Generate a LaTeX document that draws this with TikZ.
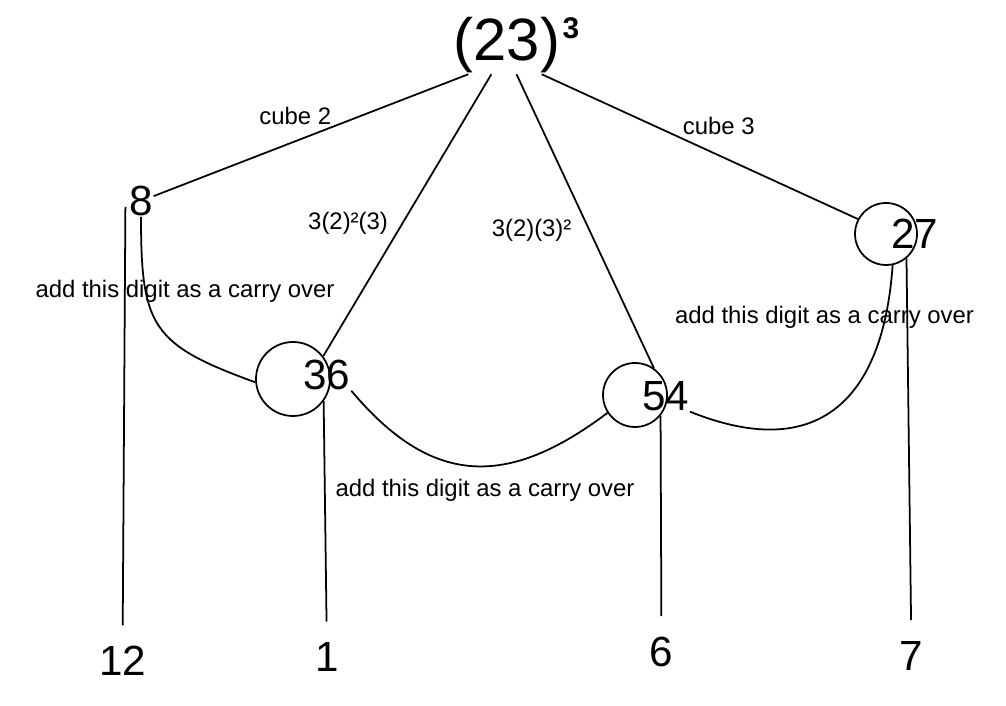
\documentclass[tikz,border=0pt]{standalone}
\usepackage{fontspec}
\setmainfont{Liberation Sans}
\usepackage{tikz}

\begin{document}
\begin{tikzpicture}[line width=1pt,
    num/.style={inner sep=0pt, font=\fontsize{24}{28}\selectfont},
    endnum/.style={num, inner ysep=0.4cm},
    ring/.style={circle, draw, inner sep=0pt, minimum size=#1},
    note/.style={inner sep=0pt, font=\fontsize{13.6}{16}\selectfont}]
    \useasboundingbox (0,0) rectangle (20.12,14.12);
    \node[inner sep=0pt, anchor=base, font=\fontsize{34}{40}\selectfont] (top) at (10.33,12.90) {(23)\hspace{1.5pt}\raisebox{13pt}{\fontsize{17}{17}\selectfont\bfseries 3}};
    \node[num] (n8) at (2.82,10.10) {8};
    \node[num] (n36) at (6.54,6.62) {36};
    \node[num] (n54) at (13.31,6.20) {54};
    \node[num] (n27) at (18.29,9.45) {27};
    \node[ring=1.48cm] (c36) at (5.86,6.54) {};
    \node[ring=1.28cm] (c54) at (12.70,6.22) {};
    \node[ring=1.24cm] (c27) at (17.72,9.44) {};
    \node[endnum] (d12) at (2.45,0.90) {12};
    \node[endnum] (d1) at (6.54,0.98) {1};
    \node[endnum] (d6) at (13.23,1.08) {6};
    \node[endnum] (d7) at (18.23,1.01) {7};
    \draw (top.211) -- (n8) node[note, pos=0.55, above=0.31cm] (cube2) {cube 2};
    \draw (top.229) -- (c36.37) node[note, pos=0.53, left=0.27cm] (term36) {3(2)²(3)};
    \draw (top.south) -- (c54.55) node[note, pos=0.53, left=0.34cm] (term54) {3(2)(3)²};
    \draw (top.-49) -- (c27.152) node[note, pos=0.56, above=0.4cm] (cube3) {cube 3};
    \draw ([shift={(-0.06,-0.12)}]n8.west) -- (d12);
    \draw (c36.-36) -- (d1);
    \draw (c54.-39) -- (d6);
    \draw (c27.-50) -- (d7);
    \draw (n8.south) to[out=-90, in=160, looseness=1.4] (c36.185);
    \draw (n36.south east) to[out=-50, in=217, looseness=1.25] (c54.213);
    \draw (n54.south east) to[out=-22, in=-94, looseness=1.4] (c27.-78);
    \node[note] (carryA) at (3.70,8.30) {add this digit as a carry over};
    \node[note] (carryB) at (16.49,7.77) {add this digit as a carry over};
    \node[note] (carryC) at (9.70,4.32) {add this digit as a carry over};
\end{tikzpicture}
\end{document}
